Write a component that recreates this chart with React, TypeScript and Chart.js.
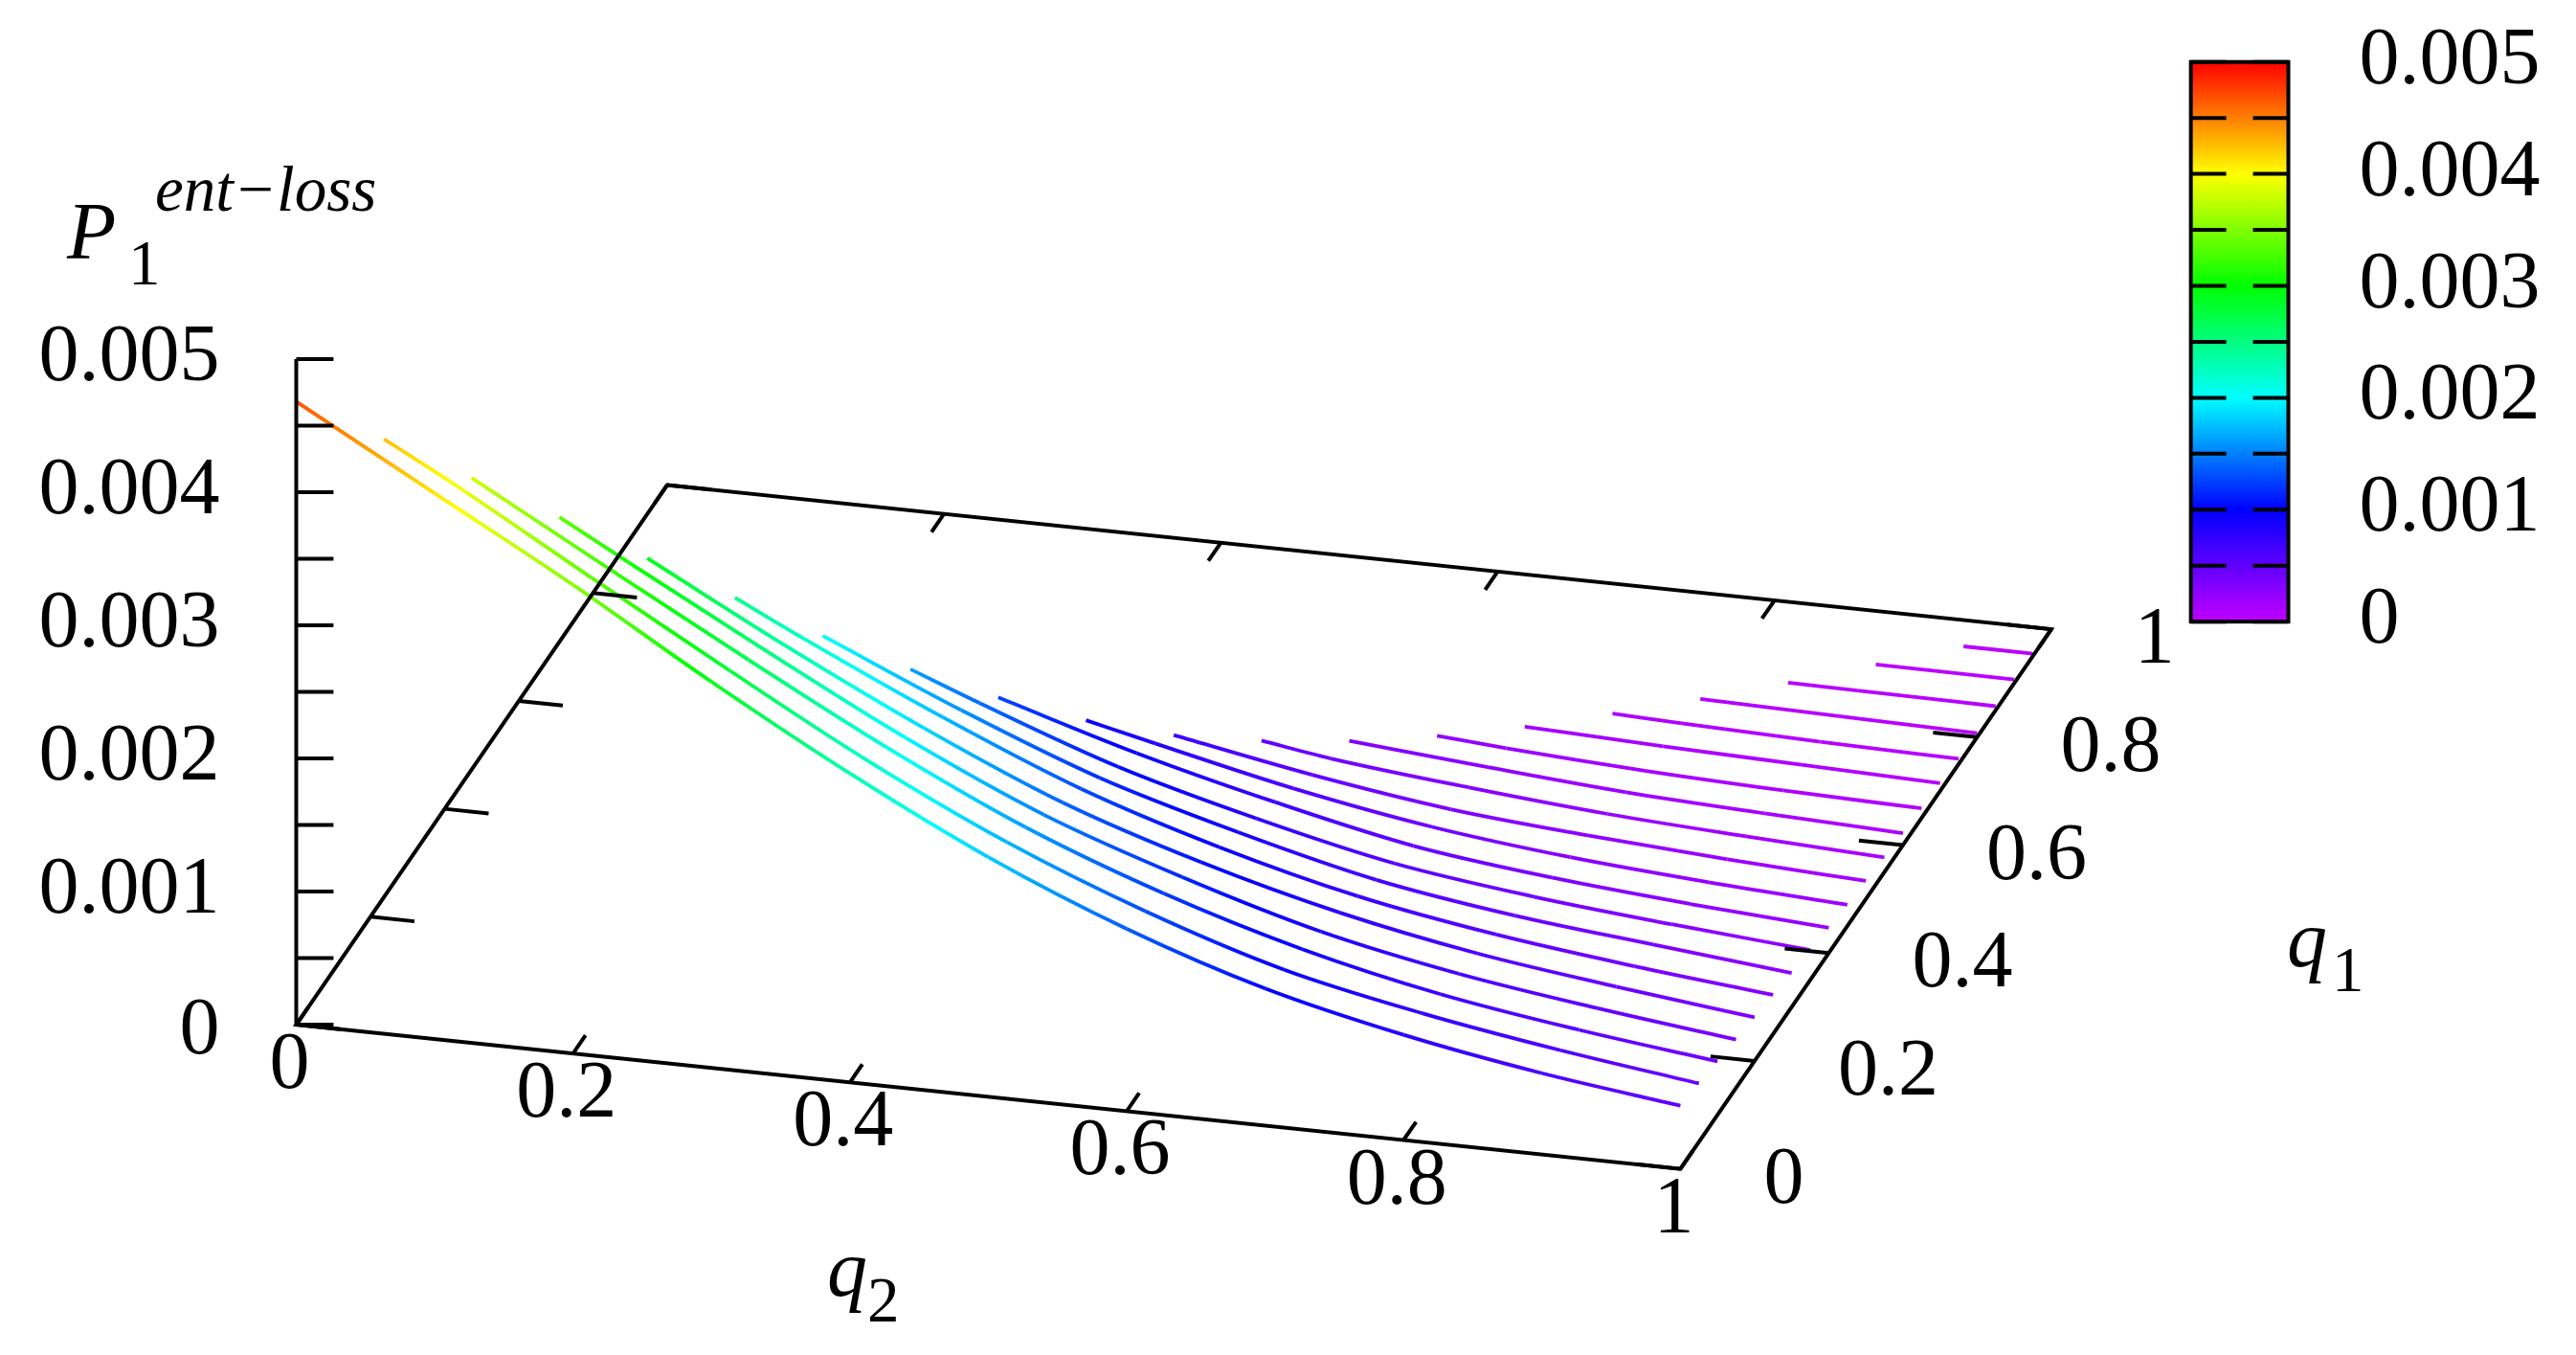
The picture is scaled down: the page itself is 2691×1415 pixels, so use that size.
import React, { useEffect, useRef } from "react";
import { Chart, registerables } from "chart.js";

Chart.register(...registerables);

// ---------------- data ----------------
// Each curve is a line of constant q1; it runs from q2 = q1 up to q2 = 1.
const Q1_LEVELS = [0, 0.05, 0.1, 0.15, 0.2, 0.25, 0.3, 0.35, 0.4, 0.45, 0.5, 0.55, 0.6, 0.65, 0.7, 0.75, 0.8, 0.85, 0.9, 0.95];
// q2 sample positions after the start point of each curve
const Q2_GRID = [0, 0.1, 0.2, 0.3, 0.4, 0.5, 0.6, 0.7, 0.8, 0.9, 1];

const P_Q1_000 = [0.00468, 0.0041, 0.00352, 0.0029, 0.00232, 0.0018, 0.00137, 0.00103, 0.00079, 0.00061, 0.000475];
const P_Q1_005 = [0.00425, 0.00397, 0.00337, 0.00278, 0.00221, 0.00171, 0.0013, 0.00097, 0.00075, 0.00058, 0.000439];
const P_Q1_010 = [0.00381, 0.00323, 0.00266, 0.00211, 0.00162, 0.00123, 0.00092, 0.00069, 0.00053, 0.000402];
const P_Q1_015 = [0.003366, 0.00308, 0.00252, 0.00198, 0.00151, 0.00115, 0.00085, 0.00064, 0.00049, 0.000363];
const P_Q1_020 = [0.00291, 0.00236, 0.00185, 0.0014, 0.00106, 0.00079, 0.00059, 0.00045, 0.000327];
const P_Q1_025 = [0.002465, 0.00221, 0.00173, 0.0013, 0.00097, 0.00071, 0.00053, 0.0004, 0.000294];
const P_Q1_030 = [0.00203, 0.00158, 0.00118, 0.00088, 0.00063, 0.00047, 0.00036, 0.000255];
const P_Q1_035 = [0.00163, 0.00143, 0.00106, 0.00078, 0.00055, 0.00041, 0.00031, 0.000225];
const P_Q1_040 = [0.00127, 0.00096, 0.0007, 0.00048, 0.00035, 0.00026, 0.000189];
const P_Q1_045 = [0.00095, 0.00083, 0.0006, 0.00042, 0.0003, 0.00022, 0.00016];
const P_Q1_050 = [0.00069, 0.0005, 0.00035, 0.00026, 0.00019, 0.000136];
const P_Q1_055 = [0.0005, 0.00042, 0.00031, 0.00022, 0.00016, 0.00011];
const P_Q1_060 = [0.00035, 0.00026, 0.00018, 0.00013, 0.00009];
const P_Q1_065 = [0.00024, 0.0002, 0.00014, 0.0001, 0.000073];
const P_Q1_070 = [0.00016, 0.00012, 0.00009, 0.00006];
const P_Q1_075 = [0.00011, 0.00009, 0.00006, 0.00004];
const P_Q1_080 = [0.00007, 0.00005, 0.00003];
const P_Q1_085 = [0.000044, 0.00004, 0.00003];
const P_Q1_090 = [0.000033, 0.000027];
const P_Q1_095 = [0.00002, 0.00002];

const P_LINES = [
  P_Q1_000, P_Q1_005, P_Q1_010, P_Q1_015, P_Q1_020, P_Q1_025, P_Q1_030, P_Q1_035, P_Q1_040, P_Q1_045,
  P_Q1_050, P_Q1_055, P_Q1_060, P_Q1_065, P_Q1_070, P_Q1_075, P_Q1_080, P_Q1_085, P_Q1_090, P_Q1_095,
];

// ticks
const Z_MAX = 0.005;
const Z_TICK_VALUES = [0, 0.001, 0.002, 0.003, 0.004, 0.005];
const Z_TICK_LABELS = ["0", "0.001", "0.002", "0.003", "0.004", "0.005"];
const Z_MINOR_VALUES = [0, 0.0005, 0.001, 0.0015, 0.002, 0.0025, 0.003, 0.0035, 0.004, 0.0045, 0.005];
const Q_TICK_VALUES = [0, 0.2, 0.4, 0.6, 0.8, 1];
const Q_TICK_LABELS = ["0", "0.2", "0.4", "0.6", "0.8", "1"];

// palette (value -> rgb)
const PALETTE_VALUES = [0, 0.001, 0.002, 0.003, 0.004, 0.005];
const PALETTE_COLORS = [
  [192, 0, 255],
  [0, 0, 255],
  [0, 255, 255],
  [0, 255, 0],
  [255, 255, 0],
  [255, 0, 0],
];

// ---------------- view / style ----------------
const W = 2691;
const H = 1415;
const VIEW = { ox: 308, oy: 1071, q2x: 1448, q2y: 151, q1x: 388, q1y: -565, zPx: 697 };
const CB = { left: 2290, right: 2392, top: 63, bottom: 649, tick: 37 };
const FONT = '"Liberation Serif", "Times New Roman", serif';
const FS = 84;
const FS_SMALL = 67;

function project(q2: number, q1: number, p: number) {
  return {
    x: VIEW.ox + VIEW.q2x * q2 + VIEW.q1x * q1,
    y: VIEW.oy + VIEW.q2y * q2 + VIEW.q1y * q1 - VIEW.zPx * (p / Z_MAX),
  };
}

function paletteRGB(v: number) {
  const t = Math.max(PALETTE_VALUES[0], Math.min(PALETTE_VALUES[PALETTE_VALUES.length - 1], v));
  for (let i = 0; i < PALETTE_VALUES.length - 1; i++) {
    const a = PALETTE_VALUES[i];
    const b = PALETTE_VALUES[i + 1];
    if (t <= b) {
      const f = (t - a) / (b - a);
      const c0 = PALETTE_COLORS[i];
      const c1 = PALETTE_COLORS[i + 1];
      return `rgb(${Math.round(c0[0] + (c1[0] - c0[0]) * f)},${Math.round(c0[1] + (c1[1] - c0[1]) * f)},${Math.round(c0[2] + (c1[2] - c0[2]) * f)})`;
    }
  }
  const c = PALETTE_COLORS[PALETTE_COLORS.length - 1];
  return `rgb(${c[0]},${c[1]},${c[2]})`;
}

function q2Positions(q1: number) {
  return [q1, ...Q2_GRID.filter((g) => g > q1 + 1e-9)];
}

function buildDatasets() {
  return Q1_LEVELS.map((q1, i) => {
    const q2s = q2Positions(q1);
    const ps = P_LINES[i];
    const data = ps.map((p, k) => project(q2s[k], q1, p));
    return {
      label: `q1=${q1}`,
      data,
      showLine: true,
      pointRadius: 0,
      borderWidth: 3.8,
      borderColor: paletteRGB(ps[0]),
      borderCapStyle: "butt" as const,
      cubicInterpolationMode: "monotone" as const,
      clip: false as const,
      segment: {
        borderColor: (c: any) => {
          const p0 = c.p0;
          const p1 = c.p1;
          const v0 = ps[c.p0DataIndex];
          const v1 = ps[c.p1DataIndex];
          if (!p0 || !p1 || (p0.x === p1.x && p0.y === p1.y)) return paletteRGB(v0);
          const g = c.chart.ctx.createLinearGradient(p0.x, p0.y, p1.x, p1.y);
          for (let k = 0; k <= 6; k++) {
            const f = k / 6;
            g.addColorStop(f, paletteRGB(v0 + (v1 - v0) * f));
          }
          return g;
        },
      },
    };
  });
}

const framePlugin = {
  id: "frame3d",
  afterDatasetsDraw(chart: any) {
    const { ctx } = chart;
    const sx = chart.scales.x;
    const sy = chart.scales.y;
    const P = (pt: { x: number; y: number }) => [sx.getPixelForValue(pt.x), sy.getPixelForValue(pt.y)];
    const seg = (a: any, b: any) => {
      const [x0, y0] = P(a);
      const [x1, y1] = P(b);
      ctx.beginPath();
      ctx.moveTo(x0, y0);
      ctx.lineTo(x1, y1);
      ctx.stroke();
    };
    ctx.save();
    ctx.strokeStyle = "#000";
    ctx.lineWidth = 4;
    ctx.lineCap = "butt";
    ctx.lineJoin = "miter";

    // base box
    const corners = [project(0, 0, 0), project(1, 0, 0), project(1, 1, 0), project(0, 1, 0)];
    ctx.beginPath();
    corners.forEach((c, i) => {
      const [x, y] = P(c);
      if (i === 0) ctx.moveTo(x, y);
      else ctx.lineTo(x, y);
    });
    ctx.closePath();
    ctx.stroke();

    // z axis
    seg(project(0, 0, 0), project(0, 0, Z_MAX));
    Z_MINOR_VALUES.forEach((v) => {
      const a = project(0, 0, v);
      seg(a, { x: a.x + 39, y: a.y });
    });

    // q2 ticks (front and back edges)
    const q2TickFrac = 0.0336;
    Q_TICK_VALUES.forEach((v) => {
      seg(project(v, 0, 0), project(v, q2TickFrac, 0));
      seg(project(v, 1, 0), project(v, 1 - q2TickFrac, 0));
    });
    // q1 ticks (left and right edges)
    const q1TickFrac = 0.0318;
    Q_TICK_VALUES.forEach((v) => {
      seg(project(0, v, 0), project(q1TickFrac, v, 0));
      seg(project(1, v, 0), project(1 - q1TickFrac, v, 0));
    });

    // colour box
    const cbY = (v: number) => CB.bottom - (v / Z_MAX) * (CB.bottom - CB.top);
    const [lx, ty] = P({ x: CB.left, y: CB.top });
    const [rx, by] = P({ x: CB.right, y: CB.bottom });
    const grad = ctx.createLinearGradient(0, by, 0, ty);
    for (let k = 0; k <= 50; k++) {
      const f = k / 50;
      grad.addColorStop(f, paletteRGB(f * Z_MAX));
    }
    ctx.fillStyle = grad;
    ctx.fillRect(lx, ty, rx - lx, by - ty);
    Z_MINOR_VALUES.forEach((v) => {
      const y = cbY(v);
      seg({ x: CB.left, y }, { x: CB.left + CB.tick, y });
      seg({ x: CB.right, y }, { x: CB.right - CB.tick, y });
    });
    ctx.strokeRect(lx, ty, rx - lx, by - ty);
    ctx.restore();
  },
  afterDraw(chart: any) {
    const { ctx } = chart;
    const sx = chart.scales.x;
    const sy = chart.scales.y;
    const P = (pt: { x: number; y: number }) => [sx.getPixelForValue(pt.x), sy.getPixelForValue(pt.y)];
    ctx.save();
    ctx.fillStyle = "#000";
    ctx.font = `${FS}px ${FONT}`;

    // z tick labels
    ctx.textAlign = "right";
    ctx.textBaseline = "middle";
    Z_TICK_VALUES.forEach((v, i) => {
      const [x, y] = P(project(0, 0, v));
      ctx.fillText(Z_TICK_LABELS[i], x - 80, v === 0 ? y + 8 : y);
    });

    // q2 tick labels
    ctx.textAlign = "center";
    Q_TICK_VALUES.forEach((v, i) => {
      const [x, y] = P(project(v, 0, 0));
      ctx.fillText(Q_TICK_LABELS[i], x - 7, y + 44);
    });

    // q1 tick labels
    ctx.textAlign = "left";
    Q_TICK_VALUES.forEach((v, i) => {
      const [x, y] = P(project(1, v, 0));
      ctx.fillText(Q_TICK_LABELS[i], x + 87, y + 13);
    });

    // colour box labels
    const cbY = (v: number) => CB.bottom - (v / Z_MAX) * (CB.bottom - CB.top);
    Z_TICK_VALUES.forEach((v, i) => {
      const [x, y] = P({ x: CB.right + 74, y: cbY(v) });
      ctx.fillText(Z_TICK_LABELS[i], x, y);
    });

    // axis titles
    ctx.textBaseline = "alphabetic";
    ctx.textAlign = "left";
    // P_1^{ent-loss}
    ctx.font = `italic ${FS}px ${FONT}`;
    ctx.fillText("P", 70, 270);
    ctx.font = `${FS_SMALL}px ${FONT}`;
    ctx.fillText("1", 134, 297);
    ctx.font = `italic ${FS_SMALL}px ${FONT}`;
    ctx.fillText("ent\u2212loss", 162, 220);
    // q_2
    ctx.font = `italic ${FS}px ${FONT}`;
    ctx.fillText("q", 864, 1353);
    ctx.font = `${FS_SMALL}px ${FONT}`;
    ctx.fillText("2", 906, 1380);
    // q_1
    ctx.font = `italic ${FS}px ${FONT}`;
    ctx.fillText("q", 2389, 1009);
    ctx.font = `${FS_SMALL}px ${FONT}`;
    ctx.fillText("1", 2436, 1035);
    ctx.restore();
  },
};

export default function App() {
  const canvasRef = useRef<HTMLCanvasElement | null>(null);

  useEffect(() => {
    const canvas = canvasRef.current;
    if (!canvas) return;
    const chart = new Chart(canvas, {
      type: "scatter",
      data: { datasets: buildDatasets() as any },
      options: {
        animation: false,
        responsive: false,
        devicePixelRatio: 1,
        events: [],
        layout: { padding: 0 },
        plugins: { legend: { display: false }, tooltip: { enabled: false } },
        scales: {
          x: { type: "linear", min: 0, max: W, display: false },
          y: { type: "linear", min: 0, max: H, reverse: true, display: false },
        },
      },
      plugins: [framePlugin],
    });
    const fonts: any = (document as any).fonts;
    if (fonts && fonts.load) {
      Promise.all([
        fonts.load(`${FS}px "Liberation Serif"`),
        fonts.load(`italic ${FS}px "Liberation Serif"`),
      ]).then(() => chart.update()).catch(() => {});
    }
    return () => chart.destroy();
  }, []);

  return (
    <div style={{ position: "absolute", left: 0, top: 0, width: W, height: H, background: "#fff" }}>
      <canvas ref={canvasRef} width={W} height={H} style={{ width: W, height: H, display: "block" }} />
    </div>
  );
}
